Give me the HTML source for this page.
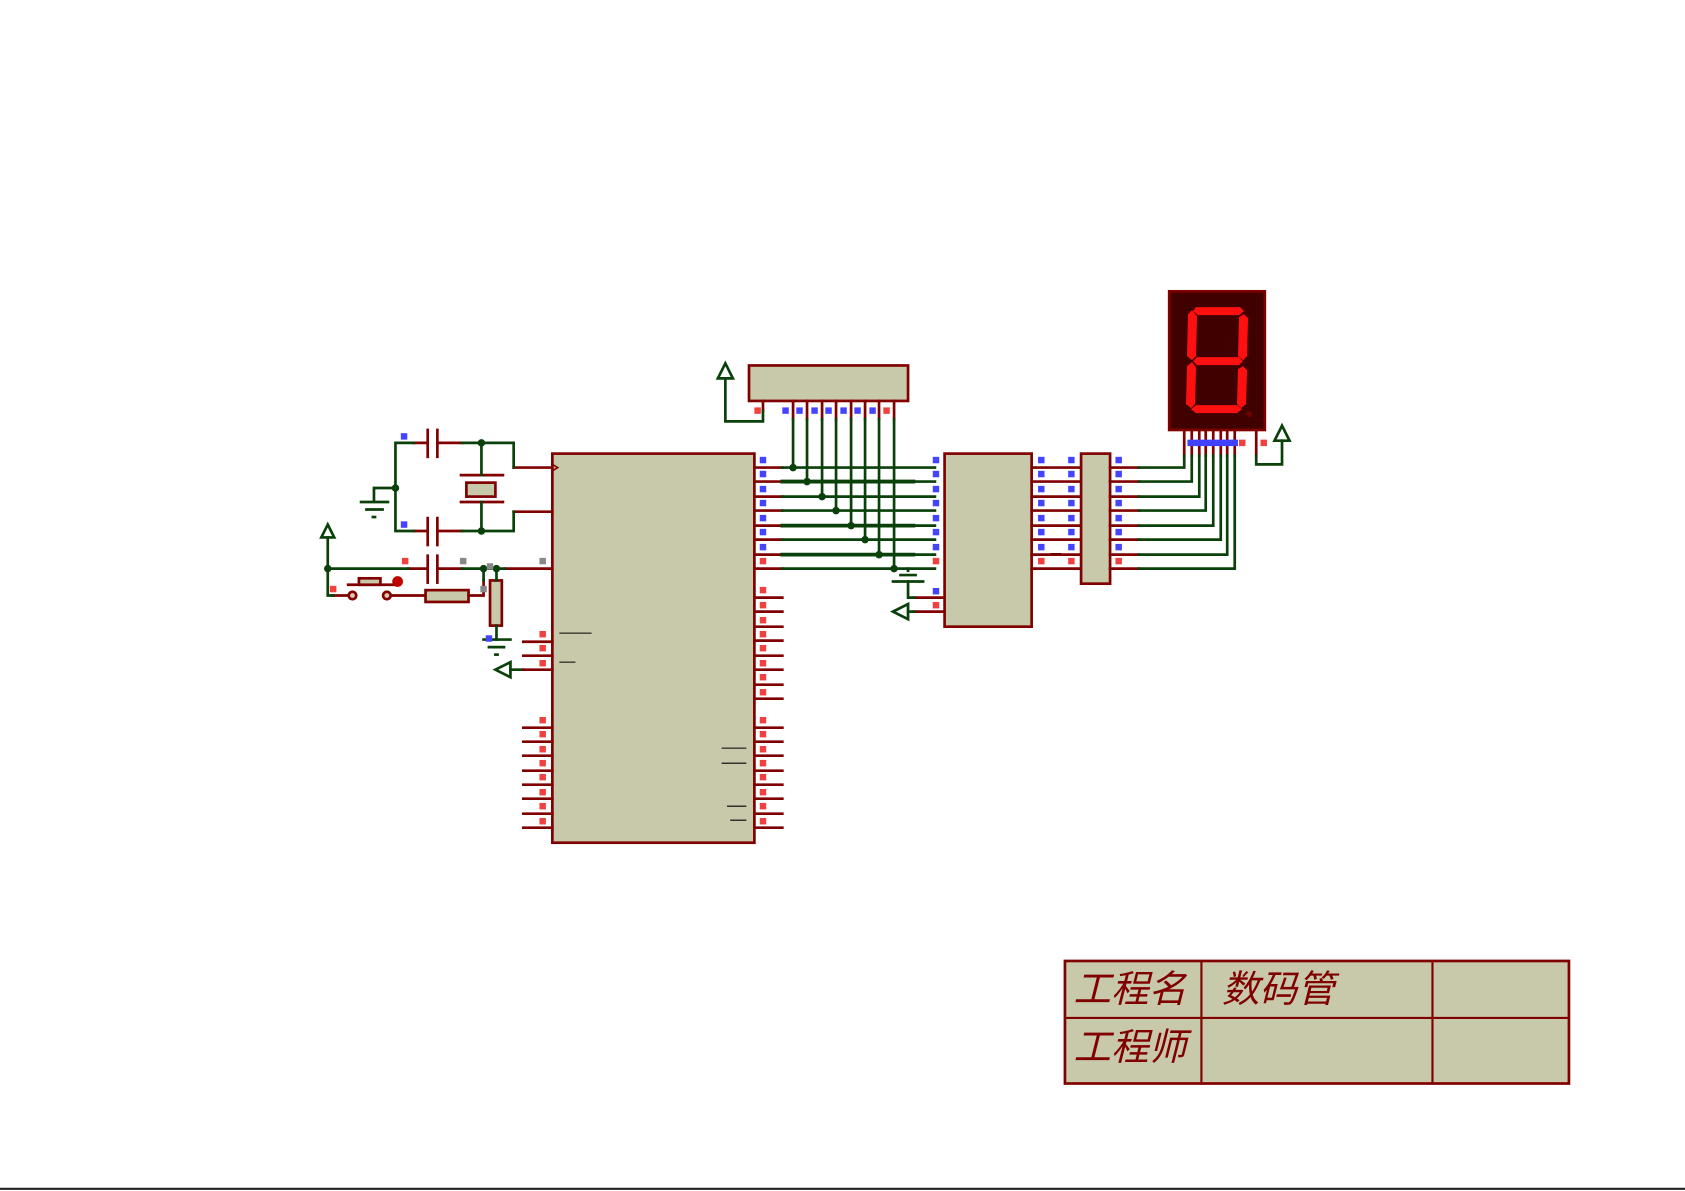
<!DOCTYPE html>
<html><head><meta charset="utf-8"><style>
html,body{margin:0;padding:0;background:#fff;}
svg{display:block;}
</style></head><body>
<svg width="1685" height="1191" viewBox="0 0 1568 1108" preserveAspectRatio="none" xmlns="http://www.w3.org/2000/svg">
<rect x="0" y="0" width="1568" height="1108" fill="#fff"/>
<g fill="none" stroke-linecap="square">
<rect x="514" y="422" width="188" height="362" fill="#c8c8aa" stroke="#800000" stroke-width="2.5"/>
<g stroke="#800000" stroke-width="2.5">
<line x1="702" y1="435" x2="728" y2="435"/><line x1="702" y1="448" x2="728" y2="448"/>
<line x1="702" y1="462" x2="728" y2="462"/><line x1="702" y1="475" x2="728" y2="475"/>
<line x1="702" y1="489" x2="728" y2="489"/><line x1="702" y1="502" x2="728" y2="502"/>
<line x1="702" y1="516" x2="728" y2="516"/><line x1="702" y1="529" x2="728" y2="529"/>
</g>
<g stroke="#0a400a" stroke-width="2.5">
<line x1="728" y1="435" x2="870" y2="435"/><line x1="728" y1="448" x2="870" y2="448"/>
<line x1="728" y1="462" x2="870" y2="462"/><line x1="728" y1="475" x2="870" y2="475"/>
<line x1="728" y1="489" x2="870" y2="489"/><line x1="728" y1="502" x2="870" y2="502"/>
<line x1="728" y1="516" x2="870" y2="516"/><line x1="728" y1="529" x2="870" y2="529"/>
</g>
<g stroke="#0a400a" stroke-width="3.5">
<line x1="728" y1="448" x2="850" y2="448"/><line x1="728" y1="489" x2="850" y2="489"/><line x1="728" y1="516" x2="850" y2="516"/>
</g>
<g stroke="#800000" stroke-width="2.5">
<line x1="702" y1="556" x2="728" y2="556"/><line x1="702" y1="569" x2="728" y2="569"/>
<line x1="702" y1="583" x2="728" y2="583"/><line x1="702" y1="596" x2="728" y2="596"/>
<line x1="702" y1="610" x2="728" y2="610"/><line x1="702" y1="623" x2="728" y2="623"/>
<line x1="702" y1="637" x2="728" y2="637"/><line x1="702" y1="650" x2="728" y2="650"/>
<line x1="702" y1="677" x2="728" y2="677"/><line x1="702" y1="690" x2="728" y2="690"/>
<line x1="702" y1="703" x2="728" y2="703"/><line x1="702" y1="717" x2="728" y2="717"/>
<line x1="702" y1="730" x2="728" y2="730"/><line x1="702" y1="743" x2="728" y2="743"/>
<line x1="702" y1="757" x2="728" y2="757"/><line x1="702" y1="770" x2="728" y2="770"/>
<line x1="487" y1="597" x2="514" y2="597"/><line x1="487" y1="610" x2="514" y2="610"/>
<line x1="487" y1="677" x2="514" y2="677"/><line x1="487" y1="690" x2="514" y2="690"/>
<line x1="487" y1="703" x2="514" y2="703"/><line x1="487" y1="717" x2="514" y2="717"/>
<line x1="487" y1="730" x2="514" y2="730"/><line x1="487" y1="743" x2="514" y2="743"/>
<line x1="487" y1="757" x2="514" y2="757"/><line x1="487" y1="770" x2="514" y2="770"/>
<line x1="478" y1="435" x2="514" y2="435"/><line x1="478" y1="476" x2="514" y2="476"/>
<line x1="470" y1="529" x2="514" y2="529"/>
</g>
<g stroke="#000" stroke-width="1">
<line x1="521" y1="589" x2="550" y2="589"/><line x1="521" y1="616" x2="535" y2="616"/>
<line x1="672" y1="696" x2="694" y2="696"/><line x1="672" y1="710" x2="694" y2="710"/>
<line x1="677" y1="750" x2="694" y2="750"/><line x1="680" y1="763" x2="694" y2="763"/>
<line x1="888" y1="550" x2="900" y2="550"/><line x1="906" y1="564" x2="919" y2="564"/>
<line x1="978" y1="515" x2="987" y2="515"/>
</g>
<rect x="697" y="340" width="148" height="33" fill="#c8c8aa" stroke="#800000" stroke-width="2.5"/>
<g stroke="#800000" stroke-width="2.5">
<line x1="710" y1="373" x2="710" y2="382"/>
<line x1="738" y1="373" x2="738" y2="390"/><line x1="751" y1="373" x2="751" y2="390"/>
<line x1="765" y1="373" x2="765" y2="390"/><line x1="778" y1="373" x2="778" y2="390"/>
<line x1="792" y1="373" x2="792" y2="390"/><line x1="805" y1="373" x2="805" y2="390"/>
<line x1="818" y1="373" x2="818" y2="390"/><line x1="832" y1="373" x2="832" y2="390"/>
</g>
<g stroke="#0a400a" stroke-width="2.5">
<polyline points="710,382 710,392 675,392 675,352"/>
<polygon points="675,338 668,352 682,352"/>
<line x1="738" y1="390" x2="738" y2="435"/><line x1="751" y1="390" x2="751" y2="448"/>
<line x1="765" y1="390" x2="765" y2="462"/><line x1="778" y1="390" x2="778" y2="475"/>
<line x1="792" y1="390" x2="792" y2="489"/><line x1="805" y1="390" x2="805" y2="502"/>
<line x1="818" y1="390" x2="818" y2="516"/><line x1="832" y1="390" x2="832" y2="529"/>
</g>
<g fill="#0a400a">
<circle cx="738" cy="435" r="3.5"/><circle cx="751" cy="448" r="3.5"/><circle cx="765" cy="462" r="3.5"/>
<circle cx="778" cy="475" r="3.5"/><circle cx="792" cy="489" r="3.5"/><circle cx="805" cy="502" r="3.5"/>
<circle cx="818" cy="516" r="3.5"/><circle cx="832" cy="529" r="3.5"/>
</g>
<rect x="879" y="422" width="81" height="161" fill="#c8c8aa" stroke="#800000" stroke-width="2.5"/>
<g stroke="#800000" stroke-width="2.5">
<line x1="850" y1="556" x2="879" y2="556"/><line x1="850" y1="569" x2="879" y2="569"/>
<line x1="960" y1="435" x2="1006" y2="435"/><line x1="960" y1="448" x2="1006" y2="448"/>
<line x1="960" y1="462" x2="1006" y2="462"/><line x1="960" y1="475" x2="1006" y2="475"/>
<line x1="960" y1="489" x2="1006" y2="489"/><line x1="960" y1="502" x2="1006" y2="502"/>
<line x1="960" y1="516" x2="1006" y2="516"/><line x1="960" y1="529" x2="1006" y2="529"/>
</g>
<g stroke="#0a400a" stroke-width="2.5">
<line x1="845" y1="529" x2="845" y2="531"/>
<line x1="838" y1="535" x2="852" y2="535"/><line x1="831" y1="541" x2="859" y2="541"/>
<polyline points="845,541 845,556 851,556"/>
<line x1="845" y1="569" x2="851" y2="569"/>
<polygon points="831,569 845,562 845,576"/>
</g>
<rect x="1006" y="422" width="27" height="121" fill="#c8c8aa" stroke="#800000" stroke-width="2.5"/>
<g stroke="#800000" stroke-width="2.5">
<line x1="1033" y1="435" x2="1060" y2="435"/><line x1="1033" y1="448" x2="1060" y2="448"/>
<line x1="1033" y1="462" x2="1060" y2="462"/><line x1="1033" y1="475" x2="1060" y2="475"/>
<line x1="1033" y1="489" x2="1060" y2="489"/><line x1="1033" y1="502" x2="1060" y2="502"/>
<line x1="1033" y1="516" x2="1060" y2="516"/><line x1="1033" y1="529" x2="1060" y2="529"/>
<line x1="1102" y1="400" x2="1102" y2="424"/><line x1="1109" y1="400" x2="1109" y2="424"/>
<line x1="1116" y1="400" x2="1116" y2="424"/><line x1="1122" y1="400" x2="1122" y2="424"/>
<line x1="1129" y1="400" x2="1129" y2="424"/><line x1="1136" y1="400" x2="1136" y2="424"/>
<line x1="1142" y1="400" x2="1142" y2="424"/><line x1="1149" y1="400" x2="1149" y2="424"/>
<line x1="1169" y1="400" x2="1169" y2="424"/>
</g>
<g stroke="#0a400a" stroke-width="2.5">
<polyline points="1060,435 1102,435 1102,424"/><polyline points="1060,448 1109,448 1109,424"/>
<polyline points="1060,462 1116,462 1116,424"/><polyline points="1060,475 1122,475 1122,424"/>
<polyline points="1060,489 1129,489 1129,424"/><polyline points="1060,502 1136,502 1136,424"/>
<polyline points="1060,516 1142,516 1142,424"/><polyline points="1060,529 1149,529 1149,424"/>
<polyline points="1169,424 1169,432 1193,432 1193,410"/>
<polygon points="1193,396 1186,410 1200,410"/>
</g>
<rect x="1088" y="271" width="89" height="129" fill="#400000" stroke="#800000" stroke-width="2.5"/>
<g fill="#ff1010" stroke="none" transform="scale(0.93058)">
<polygon points="1196,307 1240,307 1244,311 1239,315 1198,315 1193,311"/>
<polygon points="1188,314 1192,310 1197,316 1196,356 1192,360 1187,356"/>
<polygon points="1244,314 1248,318 1247,356 1243,360 1238,356 1239,317"/>
<polygon points="1193,361 1197,357 1239,357 1243,361 1239,365 1197,365"/>
<polygon points="1187,366 1192,362 1196,367 1195,404 1191,408 1186,404"/>
<polygon points="1243,366 1247,370 1246,404 1241,408 1237,404 1238,369"/>
<polygon points="1191,409 1196,405 1237,405 1242,409 1237,413 1196,413"/>
<circle cx="1249" cy="414" r="3" fill="#700000"/>
</g>
<rect x="1105" y="409" width="47" height="6" fill="#4040ff" stroke="none"/>
<g stroke="#800000" stroke-width="2.5">
<line x1="385" y1="412" x2="398" y2="412"/><line x1="407" y1="412" x2="430" y2="412"/>
<line x1="398" y1="400" x2="398" y2="425"/><line x1="407" y1="400" x2="407" y2="425"/>
<line x1="385" y1="494" x2="398" y2="494"/><line x1="407" y1="494" x2="430" y2="494"/>
<line x1="398" y1="482" x2="398" y2="507"/><line x1="407" y1="482" x2="407" y2="507"/>
<line x1="429" y1="442" x2="468" y2="442"/><line x1="429" y1="467" x2="468" y2="467"/>
<rect x="434" y="449" width="27" height="13" fill="#c8c8aa"/>
<line x1="398" y1="517" x2="398" y2="542"/><line x1="407" y1="517" x2="407" y2="542"/>
<line x1="380" y1="529" x2="398" y2="529"/><line x1="407" y1="529" x2="430" y2="529"/>
<line x1="310" y1="554" x2="324" y2="554"/><line x1="364" y1="554" x2="396" y2="554"/>
<rect x="396" y="549" width="40" height="11" fill="#c8c8aa"/>
<polyline points="436,554 450,554 450,540"/>
<line x1="324" y1="544" x2="366" y2="544"/>
<rect x="334" y="538" width="20" height="6" fill="#c8c8aa"/>
<circle cx="328" cy="554" r="3.5" fill="#e0c8b0"/><circle cx="360" cy="554" r="3.5" fill="#e0c8b0"/>
<rect x="456" y="540" width="11" height="42" fill="#c8c8aa"/>
</g>
<circle cx="370" cy="541" r="5" fill="#c00000"/>
<g stroke="#0a400a" stroke-width="2.5">
<polyline points="385,412 368,412 368,494 385,494"/>
<polyline points="368,454 348,454 348,466"/>
<line x1="336" y1="467" x2="361" y2="467"/><line x1="341" y1="474" x2="356" y2="474"/><line x1="347" y1="481" x2="349" y2="481"/>
<polyline points="430,412 478,412 478,435"/><line x1="448" y1="412" x2="448" y2="442"/><line x1="448" y1="467" x2="448" y2="494"/>
<polyline points="430,494 478,494 478,476"/>
<polyline points="305,500 305,554 310,554"/><polygon points="305,488 299,500 311,500"/>
<line x1="305" y1="529" x2="380" y2="529"/><line x1="430" y1="529" x2="470" y2="529"/>
<line x1="450" y1="529" x2="450" y2="540"/><line x1="462" y1="529" x2="462" y2="540"/>
<line x1="462" y1="582" x2="462" y2="595"/>
<line x1="450" y1="595" x2="475" y2="595"/><line x1="455" y1="602" x2="469" y2="602"/><line x1="461" y1="609" x2="463" y2="609"/>
<line x1="475" y1="623" x2="487" y2="623"/><polygon points="461,623 475,616 475,630"/>
<line x1="487" y1="623" x2="514" y2="623" stroke="#800000"/>
</g>
<g fill="#0a400a">
<circle cx="448" cy="412" r="3.5"/><circle cx="448" cy="494" r="3.5"/><circle cx="368" cy="454" r="3.5"/>
<circle cx="305" cy="529" r="3.5"/><circle cx="450" cy="529" r="3.5"/><circle cx="462" cy="529" r="3.5"/>
</g>
<polygon points="514,432 519,435 514,438" fill="none" stroke="#800000" stroke-width="1.5"/>
</g>
<g fill="#4444ff" stroke="none">
<rect x="707" y="425" width="6" height="6"/><rect x="707" y="438" width="6" height="6"/>
<rect x="707" y="452" width="6" height="6"/><rect x="707" y="465" width="6" height="6"/>
<rect x="707" y="479" width="6" height="6"/><rect x="707" y="492" width="6" height="6"/>
<rect x="707" y="506" width="6" height="6"/>
<rect x="728" y="379" width="6" height="6"/><rect x="741" y="379" width="6" height="6"/>
<rect x="755" y="379" width="6" height="6"/><rect x="768" y="379" width="6" height="6"/>
<rect x="782" y="379" width="6" height="6"/><rect x="795" y="379" width="6" height="6"/>
<rect x="809" y="379" width="6" height="6"/>
<rect x="868" y="425" width="6" height="6"/><rect x="868" y="438" width="6" height="6"/>
<rect x="868" y="452" width="6" height="6"/><rect x="868" y="465" width="6" height="6"/>
<rect x="868" y="479" width="6" height="6"/><rect x="868" y="492" width="6" height="6"/>
<rect x="868" y="506" width="6" height="6"/><rect x="868" y="547" width="6" height="6"/>
<rect x="966" y="425" width="6" height="6"/><rect x="966" y="438" width="6" height="6"/>
<rect x="966" y="452" width="6" height="6"/><rect x="966" y="465" width="6" height="6"/>
<rect x="966" y="479" width="6" height="6"/><rect x="966" y="492" width="6" height="6"/>
<rect x="966" y="506" width="6" height="6"/>
<rect x="994" y="425" width="6" height="6"/><rect x="994" y="438" width="6" height="6"/>
<rect x="994" y="452" width="6" height="6"/><rect x="994" y="465" width="6" height="6"/>
<rect x="994" y="479" width="6" height="6"/><rect x="994" y="492" width="6" height="6"/>
<rect x="994" y="506" width="6" height="6"/>
<rect x="1038" y="425" width="6" height="6"/><rect x="1038" y="438" width="6" height="6"/>
<rect x="1038" y="452" width="6" height="6"/><rect x="1038" y="465" width="6" height="6"/>
<rect x="1038" y="479" width="6" height="6"/><rect x="1038" y="492" width="6" height="6"/>
<rect x="1038" y="506" width="6" height="6"/>
<rect x="373" y="403" width="6" height="6"/><rect x="373" y="485" width="6" height="6"/>
<rect x="452" y="591" width="6" height="6"/>
</g>
<g fill="#f04040" stroke="none">
<rect x="707" y="519" width="6" height="6"/><rect x="702" y="379" width="6" height="6"/><rect x="822" y="379" width="6" height="6"/>
<rect x="868" y="560" width="6" height="6"/><rect x="868" y="519" width="6" height="6"/>
<rect x="966" y="519" width="6" height="6"/><rect x="994" y="519" width="6" height="6"/><rect x="1038" y="519" width="6" height="6"/>
<rect x="1153" y="409" width="6" height="6"/><rect x="1173" y="409" width="6" height="6"/>
<rect x="374" y="519" width="6" height="6"/><rect x="307" y="545" width="6" height="6"/>
<rect x="502" y="587" width="6" height="6"/><rect x="502" y="600" width="6" height="6"/><rect x="502" y="614" width="6" height="6"/>
<rect x="502" y="667" width="6" height="6"/><rect x="502" y="680" width="6" height="6"/><rect x="502" y="694" width="6" height="6"/>
<rect x="502" y="707" width="6" height="6"/><rect x="502" y="720" width="6" height="6"/><rect x="502" y="734" width="6" height="6"/>
<rect x="502" y="747" width="6" height="6"/><rect x="502" y="761" width="6" height="6"/>
<rect x="707" y="546" width="6" height="6"/><rect x="707" y="560" width="6" height="6"/><rect x="707" y="574" width="6" height="6"/>
<rect x="707" y="587" width="6" height="6"/><rect x="707" y="600" width="6" height="6"/><rect x="707" y="614" width="6" height="6"/>
<rect x="707" y="627" width="6" height="6"/><rect x="707" y="641" width="6" height="6"/>
<rect x="707" y="667" width="6" height="6"/><rect x="707" y="680" width="6" height="6"/><rect x="707" y="694" width="6" height="6"/>
<rect x="707" y="707" width="6" height="6"/><rect x="707" y="720" width="6" height="6"/><rect x="707" y="734" width="6" height="6"/>
<rect x="707" y="747" width="6" height="6"/><rect x="707" y="761" width="6" height="6"/>
</g>
<g fill="#888" stroke="none">
<rect x="428" y="519" width="6" height="6"/><rect x="453" y="524" width="6" height="6"/>
<rect x="502" y="519" width="6" height="6"/><rect x="447" y="545" width="6" height="6"/>
</g>
<rect x="991" y="894" width="469" height="114" fill="#c8c8aa" stroke="#800000" stroke-width="2.5"/>
<g stroke="#800000" stroke-width="2">
<line x1="991" y1="947" x2="1460" y2="947"/><line x1="1118" y1="894" x2="1118" y2="1008"/><line x1="1333" y1="894" x2="1333" y2="1008"/>
</g>
<g fill="#800000" font-family="'Liberation Sans','Noto Sans CJK SC',sans-serif" font-size="35" font-style="italic">
<text x="999" y="932">工程名</text>
<text x="1137" y="932">数码管</text>
<text x="999" y="986">工程师</text>
</g>
<line x1="0" y1="1106" x2="1568" y2="1106" stroke="#222" stroke-width="2"/>
</svg>
</body></html>
